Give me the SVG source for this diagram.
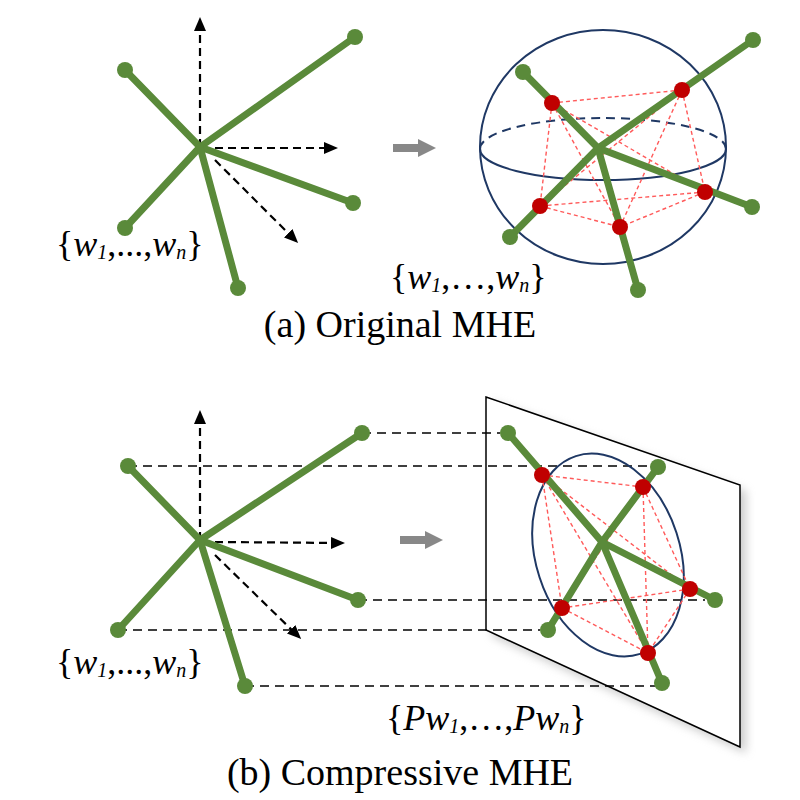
<svg xmlns="http://www.w3.org/2000/svg" width="800" height="800" viewBox="0 0 800 800">
<style>
.g{stroke:#5a8a3a;stroke-width:7;stroke-linecap:round;fill:none}
.gd{fill:#5a8a3a}
.rd{fill:#c00000}
.ax{stroke:#000;stroke-width:2.2;stroke-dasharray:8,5;fill:none;marker-end:url(#ah)}
.pr{stroke:#000;stroke-width:1.3;stroke-dasharray:9,6;fill:none}
.rl{stroke:#ff5a5a;stroke-width:1.4;stroke-dasharray:4,3;fill:none}
.t{font-family:"Liberation Serif",serif;font-size:36px;fill:#000}
.tb{font-family:"Liberation Serif",serif;font-size:38px;fill:#000}
</style>
<defs>
<marker id="ah" markerWidth="14" markerHeight="14" refX="11" refY="7" orient="auto" markerUnits="userSpaceOnUse"><path d="M0,1 L14,7 L0,13 Z" fill="#000"/></marker>
<marker id="ga" markerWidth="20" markerHeight="20" refX="2" refY="10" orient="auto" markerUnits="userSpaceOnUse"><path d="M0,1 L18,10 L0,19 Z" fill="#888"/></marker>
<filter id="sh" x="-20%" y="-20%" width="140%" height="140%"><feGaussianBlur stdDeviation="5"/></filter>
</defs>

<g id="node-a-vectors">
<line class="ax" x1="200" y1="147" x2="200" y2="20"/>
<line class="ax" x1="215" y1="148" x2="335" y2="148"/>
<line class="ax" x1="215" y1="160" x2="296" y2="241"/>
<line class="g" x1="200" y1="147" x2="355" y2="37"/>
<line class="g" x1="200" y1="147" x2="125" y2="70"/>
<line class="g" x1="200" y1="147" x2="353" y2="203"/>
<line class="g" x1="200" y1="147" x2="125" y2="228"/>
<line class="g" x1="200" y1="147" x2="238" y2="288"/>
<circle class="gd" cx="355" cy="37" r="8"/><circle class="gd" cx="125" cy="70" r="8"/><circle class="gd" cx="353" cy="203" r="8"/><circle class="gd" cx="125" cy="228" r="8"/><circle class="gd" cx="238" cy="288" r="8"/>
<text class="t" x="56" y="256">{<tspan font-style="italic">w</tspan><tspan font-style="italic" font-size="20" dy="3">1</tspan><tspan dy="-3">,...,</tspan><tspan font-style="italic">w</tspan><tspan font-style="italic" font-size="20" dy="3">n</tspan><tspan dy="-3">}</tspan></text>
</g>

<g id="connectors">
<line x1="393" y1="148" x2="420" y2="148" stroke="#888" stroke-width="8" marker-end="url(#ga)"/>
<line x1="400" y1="540" x2="427" y2="540" stroke="#888" stroke-width="8" marker-end="url(#ga)"/>
</g>

<g id="node-a-sphere">
<ellipse cx="603" cy="147" rx="123" ry="117" fill="none" stroke="#1f3864" stroke-width="2"/>
<path d="M480,149 A123,31 0 0 1 726,149" fill="none" stroke="#1f3864" stroke-width="2" stroke-dasharray="9,6"/>
<path d="M480,149 A123,31 0 0 0 726,149" fill="none" stroke="#1f3864" stroke-width="2"/>
<g class="rl">
<line x1="552" y1="103" x2="682" y2="90"/><line x1="552" y1="103" x2="705" y2="192"/><line x1="552" y1="103" x2="540" y2="206"/><line x1="552" y1="103" x2="620" y2="227"/>
<line x1="682" y1="90" x2="705" y2="192"/><line x1="682" y1="90" x2="540" y2="206"/><line x1="682" y1="90" x2="620" y2="227"/>
<line x1="705" y1="192" x2="540" y2="206"/><line x1="705" y1="192" x2="620" y2="227"/><line x1="540" y1="206" x2="620" y2="227"/>
</g>
<line class="g" x1="598" y1="148" x2="753" y2="40"/>
<line class="g" x1="598" y1="148" x2="523" y2="72"/>
<line class="g" x1="598" y1="148" x2="752" y2="207"/>
<line class="g" x1="598" y1="148" x2="510" y2="237"/>
<line class="g" x1="598" y1="148" x2="638" y2="290"/>
<circle class="gd" cx="753" cy="40" r="8"/><circle class="gd" cx="523" cy="72" r="8"/><circle class="gd" cx="752" cy="207" r="8"/><circle class="gd" cx="510" cy="237" r="8"/><circle class="gd" cx="638" cy="290" r="8"/>
<circle class="rd" cx="552" cy="103" r="8"/><circle class="rd" cx="682" cy="90" r="8"/><circle class="rd" cx="705" cy="192" r="8"/><circle class="rd" cx="540" cy="206" r="8"/><circle class="rd" cx="620" cy="227" r="8"/>
<text class="t" x="390" y="289">{<tspan font-style="italic">w</tspan><tspan font-style="italic" font-size="20" dy="3">1</tspan><tspan dy="-3">,…,</tspan><tspan font-style="italic">w</tspan><tspan font-style="italic" font-size="20" dy="3">n</tspan><tspan dy="-3">}</tspan></text>
</g>
<text class="tb" x="400" y="337" text-anchor="middle">(a) Original MHE</text>

<g id="node-b-plane">
<polygon points="492,402 746,491 746,753 492,636" fill="#999" opacity="0.5" filter="url(#sh)"/>
<polygon points="486,397 740,485 740,747 486,630" fill="#fff" stroke="#000" stroke-width="1.5"/>
</g>

<g id="projections">
<line class="pr" x1="362" y1="433" x2="500" y2="433"/>
<line class="pr" x1="128" y1="466" x2="652" y2="466"/>
<line class="pr" x1="358" y1="600" x2="705" y2="600"/>
<line class="pr" x1="118" y1="630" x2="540" y2="630"/>
<line class="pr" x1="245" y1="686" x2="655" y2="686"/>
</g>

<g id="node-b-vectors">
<line class="ax" x1="200" y1="540" x2="200" y2="413"/>
<line class="ax" x1="215" y1="542" x2="342" y2="543"/>
<line class="ax" x1="215" y1="555" x2="299" y2="637"/>
<line class="g" x1="200" y1="540" x2="362" y2="433"/>
<line class="g" x1="200" y1="540" x2="128" y2="466"/>
<line class="g" x1="200" y1="540" x2="358" y2="600"/>
<line class="g" x1="200" y1="540" x2="118" y2="630"/>
<line class="g" x1="200" y1="540" x2="245" y2="686"/>
<circle class="gd" cx="362" cy="433" r="8"/><circle class="gd" cx="128" cy="466" r="8"/><circle class="gd" cx="358" cy="600" r="8"/><circle class="gd" cx="118" cy="630" r="8"/><circle class="gd" cx="245" cy="686" r="8"/>
<text class="t" x="56" y="674">{<tspan font-style="italic">w</tspan><tspan font-style="italic" font-size="20" dy="3">1</tspan><tspan dy="-3">,...,</tspan><tspan font-style="italic">w</tspan><tspan font-style="italic" font-size="20" dy="3">n</tspan><tspan dy="-3">}</tspan></text>
</g>

<g id="node-b-ellipse">
<ellipse cx="608" cy="555" rx="72" ry="104" transform="rotate(-18 608 555)" fill="none" stroke="#1f3864" stroke-width="2"/>
<g class="rl">
<line x1="542" y1="475" x2="643" y2="487"/><line x1="542" y1="475" x2="690" y2="589"/><line x1="542" y1="475" x2="562" y2="608"/><line x1="542" y1="475" x2="648" y2="653"/>
<line x1="643" y1="487" x2="690" y2="589"/><line x1="643" y1="487" x2="562" y2="608"/><line x1="643" y1="487" x2="648" y2="653"/>
<line x1="690" y1="589" x2="562" y2="608"/><line x1="690" y1="589" x2="648" y2="653"/><line x1="562" y1="608" x2="648" y2="653"/>
</g>
<line class="g" x1="602" y1="542" x2="508" y2="433"/>
<line class="g" x1="602" y1="542" x2="658" y2="467"/>
<line class="g" x1="602" y1="542" x2="715" y2="600"/>
<line class="g" x1="602" y1="542" x2="548" y2="630"/>
<line class="g" x1="602" y1="542" x2="662" y2="683"/>
<circle class="gd" cx="508" cy="433" r="8"/><circle class="gd" cx="658" cy="467" r="8"/><circle class="gd" cx="715" cy="600" r="8"/><circle class="gd" cx="548" cy="630" r="8"/><circle class="gd" cx="662" cy="683" r="8"/>
<circle class="rd" cx="542" cy="475" r="8"/><circle class="rd" cx="643" cy="487" r="8"/><circle class="rd" cx="690" cy="589" r="8"/><circle class="rd" cx="562" cy="608" r="8"/><circle class="rd" cx="648" cy="653" r="8"/>
<text class="t" x="386" y="730">{<tspan font-style="italic">Pw</tspan><tspan font-style="italic" font-size="20" dy="3">1</tspan><tspan dy="-3">,…,</tspan><tspan font-style="italic">Pw</tspan><tspan font-style="italic" font-size="20" dy="3">n</tspan><tspan dy="-3">}</tspan></text>
</g>
<text class="tb" x="400" y="785" text-anchor="middle">(b) Compressive MHE</text>
</svg>
